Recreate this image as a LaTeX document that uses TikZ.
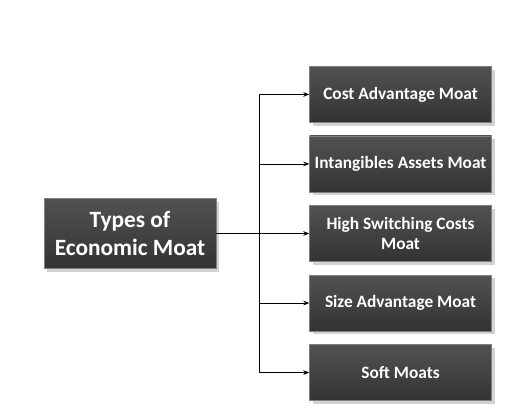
\documentclass[tikz,border=0pt]{standalone}
\usepackage{fontspec}
\setmainfont{Carlito}
\usepackage{tikz}
\usetikzlibrary{arrows.meta, positioning, shadows}
\tikzset{
  moatbox/.style={draw=black!50, top color=black!68, bottom color=black!80,
                  align=center, text=white, inner sep=2pt,
                  drop shadow={opacity=0.35, shadow xshift=2.5pt, shadow yshift=-2.5pt}},
  rootbox/.style={moatbox, minimum width=129pt, minimum height=52.5pt,
                  font=\fontsize{17.5}{21}\selectfont\bfseries},
  typebox/.style={moatbox, minimum width=136.5pt, minimum height=42pt,
                  font=\fontsize{13}{15}\selectfont\bfseries},
  linkarrow/.style={-{Stealth[length=4.5pt, width=3.5pt]}, line width=0.6pt}
}
\begin{document}
\begin{tikzpicture}[x=0.75pt, y=-0.75pt, node distance=9.75pt]

\useasboundingbox (0,0) rectangle (510,414);

% Nodes
\node[rootbox] (types) at (130,233.5) {Types of\\Economic Moat};
\node[typebox, right=69.75pt of types] (switching) {High Switching Costs\\Moat};
\node[typebox, above=of switching] (intangibles) {Intangibles Assets Moat};
\node[typebox, above=of intangibles] (cost) {Cost Advantage Moat};
\node[typebox, below=of switching] (size) {Size Advantage Moat};
\node[typebox, below=of size] (soft) {Soft Moats};

% Trunk
\coordinate[right=32.25pt of types.east] (trunk);

% Arrows
\draw[line width=0.6pt] (trunk |- cost) -- (trunk |- soft);
\draw[linkarrow] (types) -- (switching);
\foreach \moat in {cost, intangibles, size, soft}
  \draw[linkarrow] (trunk |- \moat) -- (\moat);

\end{tikzpicture}
\end{document}
